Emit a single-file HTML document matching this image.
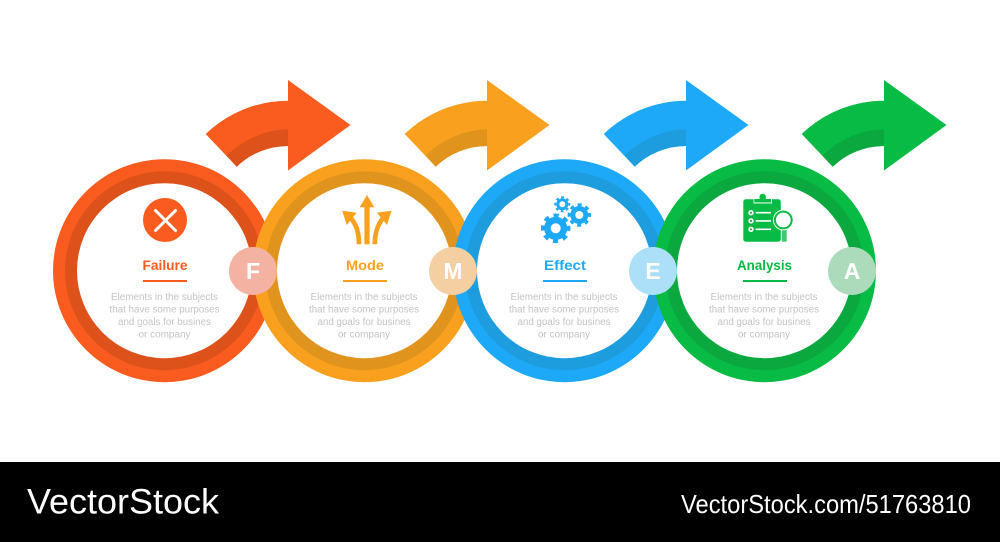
<!DOCTYPE html>
<html>
<head>
<meta charset="utf-8">
<style>
html,body{margin:0;padding:0;background:#fff;}
svg{display:block;}
text{font-family:"Liberation Sans",sans-serif;}
.t{font-weight:700;font-size:13.5px;text-anchor:middle;}
.b{font-size:10px;fill:#c4c4c4;text-anchor:middle;}
.l{font-weight:700;font-size:23px;fill:#fff;text-anchor:middle;}
</style>
</head>
<body>
<svg width="1000" height="542" viewBox="0 0 1000 542" xmlns="http://www.w3.org/2000/svg">
<defs>
<path id="ar" d="M205.7 134A119 119 0 0 1 288 100.7V80L350.5 125L288 170.5V146A74 74 0 0 0 236.7 166.7Z"/>
<path id="ard" d="M226.7 155.5A90.7 90.7 0 0 1 288 129.3V146A74 74 0 0 0 236.7 166.7Z"/>
</defs>
<rect width="1000" height="542" fill="#fff"/>

<!-- arrows -->
<use href="#ar" fill="#F95C1E"/><use href="#ard" fill="#DD521B"/>
<g transform="translate(199 0)"><use href="#ar" fill="#F9A11E"/><use href="#ard" fill="#E0941E"/></g>
<g transform="translate(398 0)"><use href="#ar" fill="#1EA9F8"/><use href="#ard" fill="#1D9CDE"/></g>
<g transform="translate(596 0)"><use href="#ar" fill="#07BB44"/><use href="#ard" fill="#0AA83E"/></g>

<!-- rings -->
<circle cx="164.5" cy="270.7" r="111.5" fill="#F95C1E"/><circle cx="164.5" cy="270.7" r="99.5" fill="#DD521B"/><circle cx="164.5" cy="270.7" r="87.5" fill="#fff"/>
<circle cx="364.5" cy="270.7" r="111.5" fill="#F9A11E"/><circle cx="364.5" cy="270.7" r="99.5" fill="#E0941E"/><circle cx="364.5" cy="270.7" r="87.5" fill="#fff"/>
<circle cx="564.5" cy="270.7" r="111.5" fill="#1EA9F8"/><circle cx="564.5" cy="270.7" r="99.5" fill="#1D9CDE"/><circle cx="564.5" cy="270.7" r="87.5" fill="#fff"/>
<circle cx="764.5" cy="270.7" r="111.5" fill="#07BB44"/><circle cx="764.5" cy="270.7" r="99.5" fill="#0AA83E"/><circle cx="764.5" cy="270.7" r="87.5" fill="#fff"/>

<!-- badges -->
<circle cx="253" cy="271" r="24" fill="#F4B3A2"/><text class="l" x="253" y="279">F</text>
<circle cx="453" cy="271" r="24" fill="#F4CFA2"/><text class="l" x="453" y="279">M</text>
<circle cx="653" cy="271" r="24" fill="#ACE0F9"/><text class="l" x="653" y="279">E</text>
<circle cx="852" cy="271" r="24" fill="#ACDBBB"/><text class="l" x="852" y="279">A</text>

<!-- failure -->
<circle cx="165" cy="220" r="22" fill="#F95C1E"/>
<path d="M155.5 210.5L175.5 230.5M175.5 210.5L155.5 230.5" stroke="#fff" stroke-width="3" stroke-linecap="round"/>
<text class="t" x="165" y="270" fill="#F95C1E" textLength="45" lengthAdjust="spacingAndGlyphs">Failure</text>
<rect x="143" y="280" width="44" height="2" fill="#F95C1E"/>
<text class="b" x="164.5" y="300" textLength="107" lengthAdjust="spacingAndGlyphs">Elements in the subjects</text>
<text class="b" x="164.5" y="312.5" textLength="110" lengthAdjust="spacingAndGlyphs">that have some purposes</text>
<text class="b" x="164.5" y="325" textLength="93" lengthAdjust="spacingAndGlyphs">and goals for busines</text>
<text class="b" x="164.5" y="337.5" textLength="52" lengthAdjust="spacingAndGlyphs">or company</text>

<!-- mode -->
<g fill="#F9A11E">
<path d="M367 195L374.3 207.3H359.7Z"/><rect x="364.4" y="206" width="5.2" height="38.3"/>
<path d="M342.3 210.7L356.7 212.7L346.7 225Z"/>
<path d="M391.5 210.7L377 212.7L387 225Z"/>
</g>
<path d="M350 217C356 224 359 232 359 244.3M383.8 217C378 224 374.8 232 374.8 244.3" fill="none" stroke="#F9A11E" stroke-width="4.7"/>
<text class="t" x="365" y="270" fill="#F9A11E" textLength="38" lengthAdjust="spacingAndGlyphs">Mode</text>
<rect x="343" y="280" width="44" height="2" fill="#F9A11E"/>
<text class="b" x="364" y="300" textLength="107" lengthAdjust="spacingAndGlyphs">Elements in the subjects</text>
<text class="b" x="364" y="312.5" textLength="110" lengthAdjust="spacingAndGlyphs">that have some purposes</text>
<text class="b" x="364" y="325" textLength="93" lengthAdjust="spacingAndGlyphs">and goals for busines</text>
<text class="b" x="364" y="337.5" textLength="52" lengthAdjust="spacingAndGlyphs">or company</text>

<!-- effect -->
<g fill="none" stroke="#1EA9F8">
<g transform="rotate(-11 555.7 228.3)"><circle cx="555.7" cy="228.3" r="13" stroke-width="3.6" stroke-dasharray="5.1 5.11"/></g>
<circle cx="555.7" cy="228.3" r="8.3" stroke-width="6.6"/>
<g transform="rotate(-11 579.3 215)"><circle cx="579.3" cy="215" r="10.3" stroke-width="2.8" stroke-dasharray="4 4.09"/></g>
<circle cx="579.3" cy="215" r="6.5" stroke-width="5"/>
<g transform="rotate(-11 562.3 204.3)"><circle cx="562.3" cy="204.3" r="7" stroke-width="2" stroke-dasharray="2.75 2.75"/></g>
<circle cx="562.3" cy="204.3" r="4.5" stroke-width="3"/>
</g>
<text class="t" x="565" y="270" fill="#1EA9F8" textLength="42" lengthAdjust="spacingAndGlyphs">Effect</text>
<rect x="543" y="280" width="44" height="2" fill="#1EA9F8"/>
<text class="b" x="564" y="300" textLength="107" lengthAdjust="spacingAndGlyphs">Elements in the subjects</text>
<text class="b" x="564" y="312.5" textLength="110" lengthAdjust="spacingAndGlyphs">that have some purposes</text>
<text class="b" x="564" y="325" textLength="93" lengthAdjust="spacingAndGlyphs">and goals for busines</text>
<text class="b" x="564" y="337.5" textLength="52" lengthAdjust="spacingAndGlyphs">or company</text>

<!-- analysis -->
<rect x="743.3" y="199.3" width="37.5" height="42.4" rx="2.5" fill="#07BB44"/>
<path d="M753.5 203.5V199H754.3V198.5H771V199H772V203.5Z" fill="#fff" opacity=".9"/>
<rect x="754.3" y="199" width="16.7" height="3.4" fill="#07BB44"/>
<circle cx="762.7" cy="197" r="3.3" fill="#07BB44"/>
<rect x="781.7" y="229" width="5" height="12.7" rx="1" fill="#3DC96F"/>
<circle cx="783.3" cy="220" r="10.4" fill="#fff"/>
<circle cx="783.3" cy="220" r="8.4" fill="#fff" stroke="#07BB44" stroke-width="2"/>
<g fill="none" stroke="#fff" stroke-width="1.6">
<circle cx="751" cy="212.7" r="1.9"/><circle cx="751" cy="220.9" r="1.9"/><circle cx="751" cy="229.3" r="1.9"/>
<path d="M755.7 212.7H771M755.7 220.9H771M755.7 229.3H771"/>
</g>
<text class="t" x="764.5" y="270" fill="#07BB44" textLength="55" lengthAdjust="spacingAndGlyphs">Analysis</text>
<rect x="743" y="280" width="44" height="2" fill="#07BB44"/>
<text class="b" x="764" y="300" textLength="107" lengthAdjust="spacingAndGlyphs">Elements in the subjects</text>
<text class="b" x="764" y="312.5" textLength="110" lengthAdjust="spacingAndGlyphs">that have some purposes</text>
<text class="b" x="764" y="325" textLength="93" lengthAdjust="spacingAndGlyphs">and goals for busines</text>
<text class="b" x="764" y="337.5" textLength="52" lengthAdjust="spacingAndGlyphs">or company</text>

<!-- footer -->
<rect x="0" y="462" width="1000" height="80" fill="#000"/>
<text x="27" y="513.5" fill="#fff" font-size="35" textLength="192" lengthAdjust="spacingAndGlyphs">VectorStock</text>
<text x="681" y="513" fill="#fff" font-size="26" textLength="290" lengthAdjust="spacingAndGlyphs">VectorStock.com/51763810</text>
</svg>
</body>
</html>
